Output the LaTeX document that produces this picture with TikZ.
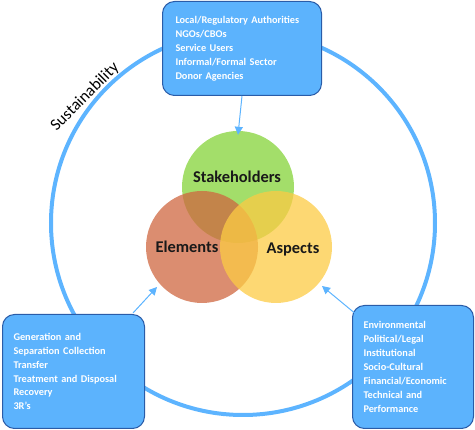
\documentclass[tikz,border=0pt]{standalone}
\usepackage{fontspec}
\setmainfont{Carlito}
\usetikzlibrary{arrows.meta}
\definecolor{ringblue}{HTML}{5DB4FF}
\definecolor{boxfill}{HTML}{5CB3FD}
\definecolor{boxline}{HTML}{2A5CA8}
\definecolor{cgreen}{HTML}{84D338}
\definecolor{csalmon}{HTML}{CF6740}
\definecolor{cyellow}{HTML}{FCCB44}
\begin{document}
\begin{tikzpicture}[x=1pt,y=-1pt,
  infobox/.style={draw=boxline,line width=1pt,fill=boxfill,rounded corners=12pt,
    text=white,font=\fontsize{10.3}{13.9}\selectfont\bfseries,align=left,
    inner xsep=11pt,inner ysep=0pt,anchor=north west},
  venn/.style={circle,minimum size=112pt,inner sep=0pt,fill opacity=0.75,text opacity=1},
  vlabel/.style={font=\fontsize{16.4}{18}\selectfont\bfseries,text=black!90},
  conn/.style={draw=ringblue,line width=1pt,-{Triangle[length=8pt,width=8pt]}}]
\useasboundingbox (0,0) rectangle (475,430);
% outer ring
\node[circle,draw=ringblue,line width=4pt,minimum size=384pt,inner sep=0pt] (ring) at (243,223) {};
\node[rotate=45,font=\fontsize{16.5}{18}\selectfont,text=black] (sust) at (85,97) {Sustainability};
% boxes
\node[infobox,minimum width=155pt,minimum height=94pt,text width=133pt,inner xsep=13pt] (topbox) at (162,1)
  {Local/Regulatory Authorities\\NGOs/CBOs\\Service Users\\Informal/Formal Sector\\Donor Agencies};
\node[infobox,minimum width=142pt,minimum height=114pt,text width=120pt] (leftbox) at (2,314)
  {Generation and\\Separation Collection\\Transfer\\Treatment and Disposal\\Recovery\\3R’s};
\node[infobox,minimum width=121pt,minimum height=123pt,text width=99pt] (rightbox) at (352,305)
  {Environmental\\Political/Legal\\Institutional\\Socio-Cultural\\Financial/Economic\\Technical and\\Performance};
% venn
\node[venn,fill=cgreen] (stake) at (238,187) {};
\node[venn,fill=csalmon] (elem) at (202,247) {};
\node[venn,fill=cyellow] (asp) at (276,247) {};
\node[vlabel] (stakelab) at (237,177) {Stakeholders};
\node[vlabel] (elemlab) at (187,247) {Elements};
\node[vlabel] (asplab) at (293,249) {Aspects};
% connectors
\coordinate (la) at (133,313);
\coordinate (ra) at (357,315);
\draw[conn] (topbox.south) -- ([yshift=-4pt]stake.north);
\draw[conn] (la) -- (157,287);
\draw[conn] (ra) -- (322,286);
\end{tikzpicture}
\end{document}
